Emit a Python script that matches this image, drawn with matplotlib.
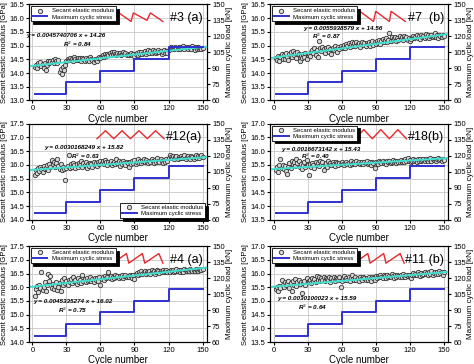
import numpy as np
import matplotlib
matplotlib.use('Agg')
from matplotlib import pyplot as plt

plt.rcParams['font.family'] = ['Liberation Sans', 'DejaVu Sans']

cycles = np.arange(2, 151)

# load steps (right axis)
stage_x = [2, 30, 60, 90, 120, 150]
stage_load = [66, 77, 88, 99, 110, 110]

# secant elastic modulus per cycle, one list per specimen
e3 = [14.22, 14.30, 14.18, 14.35, 14.28, 14.40, 14.25, 14.33, 14.20, 14.38,
      14.10, 14.30, 14.42, 14.36, 14.45, 14.40, 14.48, 14.38, 14.50, 14.44,
      14.35, 14.46, 14.05, 14.15, 13.98, 14.22, 14.12, 14.30, 14.42, 14.50,
      14.46, 14.55, 14.48, 14.52, 14.44, 14.58, 14.50, 14.47, 14.55, 14.49,
      14.53, 14.45, 14.56, 14.50, 14.42, 14.54, 14.48, 14.51, 14.44, 14.57,
      14.50, 14.46, 14.40, 14.52, 14.48, 14.44, 14.53, 14.58, 14.55, 14.62,
      14.65, 14.60, 14.68, 14.63, 14.70, 14.66, 14.72, 14.64, 14.75, 14.68,
      14.78, 14.70, 14.66, 14.74, 14.69, 14.72, 14.65, 14.70, 14.76, 14.68,
      14.73, 14.66, 14.70, 14.64, 14.69, 14.74, 14.67, 14.71, 14.62, 14.68,
      14.72, 14.66, 14.75, 14.70, 14.78, 14.68, 14.74, 14.80, 14.71, 14.77,
      14.82, 14.74, 14.79, 14.72, 14.84, 14.76, 14.80, 14.73, 14.78, 14.82,
      14.75, 14.80, 14.70, 14.77, 14.83, 14.74, 14.79, 14.72, 14.85, 14.90,
      14.94, 14.88, 14.92, 14.86, 14.95, 14.90, 14.87, 14.93, 14.89, 14.96,
      14.91, 14.98, 14.88, 14.94, 14.90, 14.86, 14.95, 14.92, 14.88, 14.97,
      14.90, 14.85, 14.93, 14.89, 14.96, 14.87, 14.92, 14.88, 14.91]
e7 = [14.55, 14.48, 14.62, 14.45, 14.58, 14.70, 14.52, 14.66, 14.50, 14.72,
      14.60, 14.48, 14.68, 14.75, 14.58, 14.80, 14.65, 14.72, 14.55, 14.78,
      14.70, 14.42, 14.62, 14.55, 14.68, 14.60, 14.74, 14.52, 14.66, 14.70,
      14.62, 14.78, 14.85, 14.72, 14.90, 14.65, 14.82, 14.60, 15.18, 14.92,
      14.80, 14.95, 14.86, 14.74, 14.90, 14.82, 14.96, 14.78, 14.88, 14.70,
      14.92, 14.84, 14.98, 14.88, 14.76, 14.94, 14.86, 15.00, 14.90, 14.96,
      15.02, 14.92, 15.06, 14.98, 15.10, 14.95, 15.04, 15.12, 14.98, 15.08,
      15.00, 15.14, 15.04, 15.10, 14.96, 15.06, 15.12, 15.02, 15.08, 14.98,
      15.10, 15.04, 15.14, 15.00, 15.08, 15.16, 15.02, 15.12, 15.06, 15.18,
      15.10, 15.22, 15.06, 15.16, 15.24, 15.12, 15.20, 15.28, 15.14, 15.22,
      15.45, 15.18, 15.30, 15.20, 15.26, 15.32, 15.16, 15.28, 15.22, 15.34,
      15.24, 15.30, 15.20, 15.36, 15.26, 15.32, 15.22, 15.28, 15.18, 15.24,
      15.30, 15.36, 15.26, 15.32, 15.38, 15.28, 15.34, 15.24, 15.40, 15.30,
      15.36, 15.28, 15.42, 15.32, 15.38, 15.26, 15.34, 15.40, 15.30, 15.36,
      15.44, 15.32, 15.38, 15.28, 15.40, 15.34, 15.30, 15.38, 15.33]
e12 = [15.65, 15.80, 15.72, 15.88, 15.78, 15.92, 15.84, 15.76, 15.95, 15.86,
       15.90, 15.98, 15.82, 16.05, 15.94, 16.18, 16.02, 16.12, 15.92, 16.08,
       16.20, 15.96, 15.84, 16.04, 15.80, 15.92, 15.86, 15.44, 15.88, 15.96,
       16.36, 15.90, 16.02, 15.94, 16.06, 15.98, 15.88, 16.04, 15.92, 16.08,
       16.00, 16.14, 15.94, 16.06, 15.98, 16.10, 15.90, 16.02, 15.96, 16.08,
       16.04, 15.94, 16.12, 16.00, 16.06, 15.96, 16.10, 16.02, 16.16, 16.08,
       16.14, 16.04, 16.18, 16.10, 16.00, 16.12, 16.06, 16.16, 15.98, 16.08,
       16.12, 16.02, 16.20, 16.06, 16.14, 15.96, 16.10, 16.04, 16.16, 16.08,
       16.00, 16.12, 16.06, 15.94, 16.10, 16.02, 16.14, 16.08, 16.18, 16.04,
       16.12, 16.20, 16.08, 16.16, 16.06, 16.14, 16.22, 16.10, 16.18, 16.12,
       16.06, 16.16, 16.10, 16.20, 16.14, 16.08, 16.18, 16.12, 16.24, 16.16,
       16.10, 16.20, 16.14, 16.06, 16.18, 16.12, 16.22, 16.16, 16.26, 16.38,
       16.30, 16.24, 16.32, 16.22, 16.28, 16.34, 16.20, 16.30, 16.26, 16.32,
       16.24, 16.30, 16.36, 16.22, 16.28, 16.34, 16.26, 16.20, 16.32, 16.28,
       16.22, 16.30, 16.36, 16.26, 16.32, 16.24, 16.34, 16.38, 16.30]
e18 = [15.30, 15.42, 15.25, 15.48, 15.72, 15.38, 15.50, 15.34, 15.46, 15.28,
       15.18, 15.44, 15.56, 15.40, 15.66, 15.52, 15.62, 15.46, 15.70, 15.58,
       15.64, 15.44, 15.54, 15.36, 15.50, 15.60, 15.42, 15.68, 15.48, 15.14,
       15.52, 15.44, 15.58, 15.48, 15.40, 15.62, 15.50, 15.56, 15.46, 15.66,
       15.54, 15.60, 15.32, 15.50, 15.58, 15.44, 15.64, 15.52, 15.56, 15.48,
       15.60, 15.54, 15.46, 15.62, 15.56, 15.50, 15.58, 15.52, 15.60, 15.54,
       15.48, 15.58, 15.62, 15.52, 15.56, 15.50, 15.64, 15.54, 15.58, 15.60,
       15.52, 15.66, 15.56, 15.60, 15.54, 15.58, 15.62, 15.52, 15.60, 15.56,
       15.64, 15.54, 15.58, 15.62, 15.50, 15.60, 15.56, 15.38, 15.62, 15.58,
       15.54, 15.64, 15.60, 15.56, 15.66, 15.58, 15.62, 15.54, 15.64, 15.60,
       15.66, 15.58, 15.62, 15.68, 15.60, 15.64, 15.58, 15.66, 15.62, 15.60,
       15.68, 15.62, 15.66, 15.60, 15.70, 15.64, 15.74, 15.66, 15.68, 15.62,
       15.66, 15.70, 15.64, 15.68, 15.62, 15.70, 15.66, 15.72, 15.64, 15.68,
       15.70, 15.66, 15.72, 15.68, 15.64, 15.70, 15.74, 15.66, 15.70, 15.68,
       15.72, 15.66, 15.70, 15.76, 15.68, 15.72, 15.66, 15.70, 15.68]
e4 = [15.68, 15.92, 16.05, 15.84, 16.10, 15.96, 16.55, 15.90, 16.02, 16.18,
      15.88, 16.08, 16.50, 16.24, 16.40, 15.98, 16.12, 15.94, 16.04, 16.20,
      15.90, 16.00, 16.14, 15.86, 16.28, 16.08, 16.34, 16.16, 16.22, 16.10,
      16.26, 16.18, 16.30, 16.14, 16.38, 16.22, 16.28, 16.12, 16.32, 16.20,
      16.26, 16.16, 16.46, 16.24, 16.30, 16.18, 16.34, 16.22, 16.28, 16.36,
      16.24, 16.30, 16.20, 16.34, 16.26, 16.32, 16.22, 16.38, 16.08, 16.30,
      16.36, 16.28, 16.40, 16.32, 16.38, 16.56, 16.34, 16.42, 16.30, 16.38,
      16.34, 16.44, 16.36, 16.40, 16.32, 16.42, 16.38, 16.46, 16.34, 16.40,
      16.44, 16.36, 16.42, 16.38, 16.46, 16.40, 16.34, 16.44, 16.30, 16.48,
      16.52, 16.46, 16.56, 16.50, 16.58, 16.48, 16.54, 16.60, 16.50, 16.56,
      16.52, 16.58, 16.48, 16.62, 16.54, 16.60, 16.50, 16.56, 16.64, 16.58,
      16.52, 16.60, 16.56, 16.62, 16.54, 16.58, 16.64, 16.56, 16.60, 16.54,
      16.62, 16.58, 16.64, 16.56, 16.60, 16.66, 16.58, 16.62, 16.54, 16.64,
      16.60, 16.56, 16.66, 16.62, 16.58, 16.64, 16.60, 16.68, 16.62, 16.58,
      16.64, 16.60, 16.66, 16.62, 16.58, 16.68, 16.64, 16.62, 16.66]
e11 = [15.42, 15.50, 15.38, 15.56, 15.46, 15.78, 15.60, 15.52, 15.70, 15.58,
       15.64, 15.74, 15.48, 15.66, 15.36, 15.72, 15.60, 15.80, 15.56, 15.68,
       15.76, 15.62, 15.70, 15.30, 15.66, 15.74, 15.58, 15.82, 15.68, 15.72,
       15.78, 15.66, 15.84, 15.74, 15.80, 15.70, 15.90, 15.76, 15.86, 15.72,
       15.82, 15.78, 15.88, 15.74, 15.84, 15.80, 15.76, 15.86, 15.70, 15.82,
       15.78, 15.88, 15.74, 15.84, 15.80, 15.76, 15.86, 15.50, 15.72, 15.82,
       15.90, 15.76, 15.84, 15.78, 15.88, 15.74, 15.82, 15.94, 15.80, 15.76,
       15.86, 15.78, 15.84, 15.74, 15.88, 15.80, 15.76, 15.86, 15.82, 15.78,
       15.84, 15.76, 15.88, 15.80, 15.74, 15.86, 15.82, 15.78, 15.90, 15.84,
       15.92, 15.86, 15.96, 15.88, 15.82, 15.94, 15.90, 15.84, 15.96, 15.88,
       15.92, 15.86, 15.98, 15.90, 15.84, 15.94, 15.88, 15.96, 15.92, 15.86,
       15.94, 15.88, 15.98, 15.92, 15.86, 15.96, 15.90, 15.94, 15.88, 15.84,
       15.96, 16.02, 15.94, 16.00, 15.96, 16.04, 15.98, 15.92, 16.02, 15.96,
       16.00, 16.06, 15.98, 16.02, 15.94, 16.04, 16.00, 16.08, 15.96, 16.02,
       16.06, 16.00, 16.04, 15.98, 16.10, 16.02, 16.06, 15.96, 16.04]

# loading pattern sketches (right axis, kN)
saw_x = [57, 60, 72, 75, 87, 89, 101, 104, 115]
saw_y = [134, 143, 134, 143, 134, 142, 135, 142, 134]
tri_x = [57, 64.4, 71.8, 79.1, 86.5, 93.9, 101.3, 108.6, 116]
tri_y = [136, 143.5, 136, 143.5, 136, 143.5, 136, 143.5, 136]
rsaw_x = [57, 69, 71, 83, 85, 97, 99, 111.5, 115]
rsaw_y = [134, 143, 134, 143, 134, 143, 134, 143, 134]

panels = [
    dict(e=e3, name='#3 (a)', ylim=(13.0, 16.5), fit=(14.26, 0.0045740706),
         eq='y = 0.0045740706 x + 14.26', r2='0.84', eqpos=(30, 15.38), r2pos=(40, 15.06),
         px=saw_x, py=saw_y, leg='upper left'),
    dict(e=e7, name='#7  (b)', ylim=(13.0, 16.5), fit=(14.56, 0.0055938579),
         eq='y = 0.0055938579 x + 14.56', r2='0.87', eqpos=(61, 15.62), r2pos=(47, 15.34),
         px=[60, 62, 74, 76, 88, 90, 102, 103.5, 116], py=[134, 143.5, 134, 143.5, 134, 143.5, 134, 143.5, 134],
         leg='upper left'),
    dict(e=e12, name='#12(a)', ylim=(14.0, 17.5), fit=(15.82, 0.0030168249),
         eq='y = 0.0030168249 x + 15.82', r2='0.63', eqpos=(45, 16.64), r2pos=(47, 16.33),
         px=tri_x, py=tri_y, leg='lower right'),
    dict(e=e18, name='#18(b)', ylim=(13.5, 17.0), fit=(15.35, 0.0026),
         eq='y = 0.0016673142 x + 15.43', r2='0.40', eqpos=(42, 16.07), r2pos=(37, 15.80),
         px=[57.5, 65, 72, 79.5, 87, 94.5, 102, 109.5, 117], py=[136, 144.5, 136, 144.5, 136, 144.5, 136, 144.5, 136],
         leg='upper left'),
    dict(e=e4, name='#4 (a)', ylim=(14.0, 17.5), fit=(16.02, 0.0045335274),
         eq='y = 0.0045335274 x + 16.02', r2='0.75', eqpos=(36, 15.48), r2pos=(36, 15.17),
         px=rsaw_x, py=rsaw_y, leg='upper left'),
    dict(e=e11, name='#11 (b)', ylim=(13.5, 17.0), fit=(15.52, 0.0035),
         eq='y = 0.0030100023 x + 15.59', r2='0.64', eqpos=(38, 15.08), r2pos=(34, 14.76),
         px=[57.5, 69, 71, 83, 85, 97, 99, 111.5, 115], py=[134, 143, 134, 143, 134, 143, 134, 143, 134],
         leg='upper left'),
]

fig = plt.figure(figsize=(4.74, 3.64), dpi=100)
lefts = [0.061, 0.570]
bottoms = [0.724, 0.396, 0.060]
w, h = 0.376, 0.264

for i, p in enumerate(panels):
    ax = fig.add_axes([lefts[i % 2], bottoms[i // 2], w, h])
    ax2 = ax.twinx()
    xlim = (-3, 154)
    sc = ax.scatter(cycles, p['e'], s=10, facecolor='#d8d8d8', edgecolor='#333333', linewidth=0.6, zorder=3)
    xf = np.array(xlim)
    ax.plot(xf, p['fit'][0] + p['fit'][1] * xf, color='#40e0d0', lw=1.4, zorder=4)
    ax.set_xlim(xlim)
    ax.set_ylim(p['ylim'])
    ax.set_yticks(np.arange(p['ylim'][0], p['ylim'][1] + 0.01, 0.5))
    ax.set_xticks(np.arange(0, 151, 30))
    ax.grid(True, color='#c8c8c8', lw=0.6)
    ax.set_axisbelow(True)
    ax.tick_params(labelsize=5.5, length=2, pad=1.5, direction='out')
    ax.set_xlabel('Cycle number', fontsize=7, labelpad=1)
    ax.set_ylabel('Secant elastic modulus [GPa]', fontsize=5.5, labelpad=1)

    bl, = ax2.step(stage_x, stage_load, where='post', color='#3030d0', lw=1.4)
    ax2.plot(p['px'], p['py'], color='#e8282c', lw=1.0)
    ax2.set_ylim(60, 150)
    ax2.set_yticks(range(60, 151, 15))
    ax2.tick_params(labelsize=5.5, length=2, pad=1.5)
    ax2.set_ylabel('Maximum cyclic load [kN]', fontsize=5.8, labelpad=1)

    ax.text(p['eqpos'][0], p['eqpos'][1], p['eq'], fontsize=4.6, fontweight='bold',
            style='italic', ha='center', va='center', zorder=6)
    ax.text(p['r2pos'][0], p['r2pos'][1], 'R$^2$ = ' + p['r2'], fontsize=4.6, fontweight='bold',
            style='italic', ha='center', va='center', zorder=6)
    ax.text(0.975, 0.86, p['name'], transform=ax.transAxes, fontsize=9, ha='right', va='center')

    leg = ax2.legend([sc, bl], ['Secant elastic modulus', 'Maximum cyclic stress'], loc=p['leg'],
                     fontsize=4.3, frameon=True, fancybox=False, shadow={'color': 'black', 'alpha': 1},
                     borderaxespad=0.3, handlelength=2.5, borderpad=0.3, labelspacing=0.2)
    leg.get_frame().set_edgecolor('black')
    leg.get_frame().set_linewidth(0.6)

fig.savefig('out.png', dpi=100)
